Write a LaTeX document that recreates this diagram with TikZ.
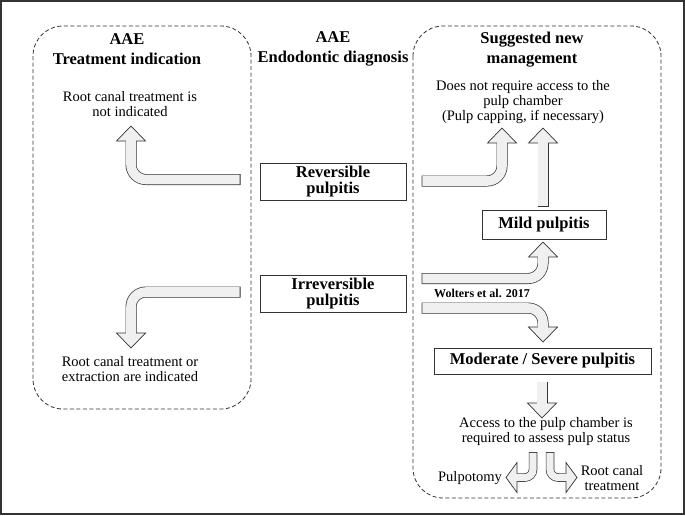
\documentclass[tikz,border=0pt]{standalone}
\usepackage{fontspec}
\setmainfont{Liberation Serif}
\usetikzlibrary{calc}
\definecolor{edge}{HTML}{333333}
\definecolor{shade}{HTML}{F0F0F0}
\tikzset{
  zone/.style={draw=edge, line width=0.8pt, dash pattern=on 4pt off 2.5pt, rounded corners=30pt},
  diag/.style={draw=edge, line width=1pt, font=\fontsize{16.5}{16}\selectfont\bfseries, align=center, inner sep=0pt},
  heading/.style={font=\fontsize{16.5}{20}\selectfont\bfseries, align=center, inner sep=0pt},
  note/.style={font=\fontsize{14.5}{15}\selectfont, align=center, inner sep=0pt},
  shaft/.style={draw=edge, line width=11pt, rounded corners=15pt},
  shaftfill/.style={draw=shade, line width=9.6pt, rounded corners=15pt, shorten <=0.8pt, shorten >=-1pt},
  tip/.style={fill=shade, draw=edge, line width=0.7pt, line join=miter},
}
\newcommand{\tipup}[1]{\draw[tip] ($(#1)+(-14.5,0)$) -- ++(14.5,-15) -- ++(14.5,15) -- cycle;}
\newcommand{\tipdown}[1]{\draw[tip] ($(#1)+(-14.5,0)$) -- ++(14.5,15) -- ++(14.5,-15) -- cycle;}
\newcommand{\tipleft}[1]{\draw[tip] ($(#1)+(0,-15)$) -- ++(-11,15) -- ++(11,15) -- cycle;}
\newcommand{\tipright}[1]{\draw[tip] ($(#1)+(0,-15)$) -- ++(11,15) -- ++(-11,15) -- cycle;}

\begin{document}
\begin{tikzpicture}[x=1pt, y=-1pt]
    \useasboundingbox (0,0) rectangle (685,515);
    \draw[edge, line width=1.5pt] (1,1) rectangle (684,514);
    % the two dashed zones
    \draw[zone] (33,26) rectangle (251,409);
    \draw[zone] (413,26) rectangle (661,498);
    % column headings
    \node[heading] (hdleft) at (127,49) {AAE\\Treatment indication};
    \node[heading] (hdmid) at (333,49) {AAE\\Endodontic diagnosis};
    \node[heading] (hdright) at (532,50) {Suggested new\\management};
    % diagnoses
    \node[diag, minimum width=146pt, minimum height=37pt] (rev) at (333,181.5) {Reversible\\pulpitis};
    \node[diag, minimum width=146pt, minimum height=37pt] (irr) at (333,293.5) {Irreversible\\pulpitis};
    \node[diag, minimum width=124pt, minimum height=29pt] (mild) at (544,224.5) {Mild pulpitis};
    \node[diag, minimum width=217pt, minimum height=26pt] (mod) at (542.5,361) {Moderate / Severe pulpitis};
    % outcomes
    \node[note] (notind) at (130,104) {Root canal treatment is\\not indicated};
    \node[note] (rcind) at (130,369) {Root canal treatment or\\extraction are indicated};
    \node[note] (noaccess) at (523,102.5) {Does not require access to the\\pulp chamber\\(Pulp capping, if necessary)};
    \node[note] (access) at (546,432) {Access to the pulp chamber is\\required to assess pulp status};
    \node[note] (pulpo) at (470,478) {Pulpotomy};
    \node[note] (rct) at (612,478) {Root canal\\treatment};
    \node[font=\fontsize{12}{12}\selectfont\bfseries, inner sep=0pt] (wolters) at (482,293) {Wolters et al. 2017};
    % arrow ends
    \coordinate (t1) at ($(rev.west)+(-19,-2)$);   \coordinate (h1) at (131,141);
    \coordinate (t2) at ($(irr.west)+(-19,-1.5)$); \coordinate (h2) at (131,333);
    \coordinate (t3) at ($(rev.east)+(15,-0.5)$);  \coordinate (h3) at (502,143);
    \coordinate (t4) at ($(mild.north)+(-1,-3)$);  \coordinate (h4) at (543,143);
    \coordinate (t5) at ($(irr.east)+(15,-15)$);   \coordinate (h5) at (543,257);
    \coordinate (t6) at ($(irr.east)+(15,14.5)$);  \coordinate (h6) at (543,327);
    \coordinate (t7) at ($(mod.south)+(-0.5,7)$);  \coordinate (h7) at (542,403);
    \coordinate (t8) at (533,452);                 \coordinate (h8) at (517,477.5);
    \coordinate (t9) at (550,452);                 \coordinate (h9) at (566,477.5);
    % hollow arrows
    \draw[shaft] (t1) -| (h1); \tipup{h1} \draw[shaftfill] (t1) -| (h1);
    \draw[shaft] (t2) -| (h2); \tipdown{h2} \draw[shaftfill] (t2) -| (h2);
    \draw[shaft] (t3) -| (h3); \tipup{h3} \draw[shaftfill] (t3) -| (h3);
    \draw[shaft] (t4) -- (h4); \tipup{h4} \draw[shaftfill] (t4) -- (h4);
    \draw[shaft] (t5) -| (h5); \tipup{h5} \draw[shaftfill] (t5) -| (h5);
    \draw[shaft] (t6) -| (h6); \tipdown{h6} \draw[shaftfill] (t6) -| (h6);
    \draw[shaft] (t7) -- (h7); \tipdown{h7} \draw[shaftfill] (t7) -- (h7);
    \draw[shaft, line width=8.5pt, rounded corners=8pt] (t8) |- (h8); \tipleft{h8}
    \draw[shaftfill, line width=7.1pt, rounded corners=8pt] (t8) |- (h8);
    \draw[shaft, line width=8.5pt, rounded corners=8pt] (t9) |- (h9); \tipright{h9}
    \draw[shaftfill, line width=7.1pt, rounded corners=8pt] (t9) |- (h9);
\end{tikzpicture}
\end{document}
